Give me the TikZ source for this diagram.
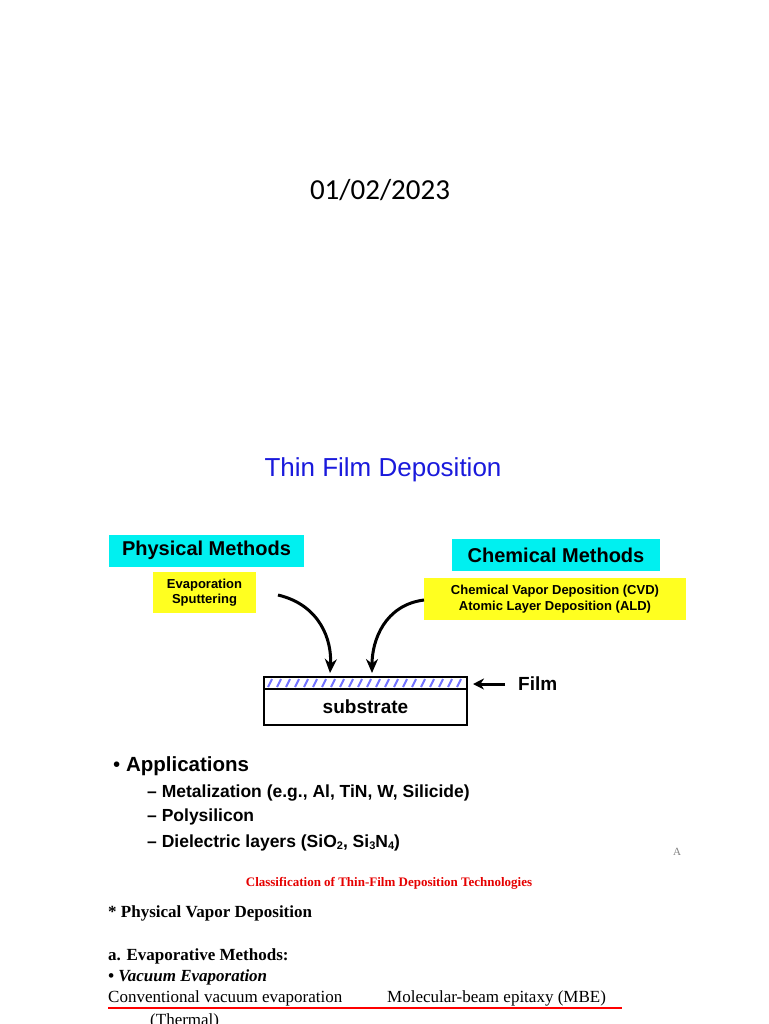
\documentclass[tikz,border=0pt]{standalone}
\usepackage{fontspec}
\setmainfont{Liberation Sans}
\newfontfamily\tms{Liberation Serif}
\newfontfamily\carl{Carlito}
\usetikzlibrary{arrows.meta}
\definecolor{cy}{HTML}{00F0F0}
\definecolor{ye}{HTML}{FFFF20}
\definecolor{tb}{HTML}{1A1ADC}
\newcommand{\sbs}[1]{\raisebox{-0.25ex}{\fontsize{11}{12}\selectfont #1}}
\tikzset{cybox/.style={fill=cy,inner sep=0pt,minimum height=32pt,font=\fontsize{20}{22}\selectfont\bfseries},
ybox/.style={fill=ye,inner sep=0pt,align=center,font=\fontsize{13}{15.5}\selectfont\bfseries},
arr/.style={line width=3pt,-{Stealth[length=14pt,width=12pt]}},
tm/.style={anchor=west,inner sep=0pt,font=\tms\fontsize{17}{19}\selectfont}}
\begin{document}
\begin{tikzpicture}[x=1pt,y=-1pt]
\useasboundingbox (0,0) rectangle (768,1024);
\node[font=\carl\fontsize{29}{30}\selectfont] (date) at (380,190) {01/02/2023};
\node[font=\fontsize{26}{28}\selectfont,text=tb] (title) at (383,470) {Thin Film Deposition};
\node[cybox,minimum width=195pt] (pm) at (206.5,550.5) {Physical Methods};
\node[cybox,minimum width=208pt] (cm) at (556,555) {Chemical Methods};
\node[ybox,minimum width=103pt,minimum height=41pt] (y1) at (204.5,592.5) {Evaporation\\Sputtering};
\node[ybox,minimum width=262pt,minimum height=42pt] (y2) at (555,599) {Chemical Vapor Deposition (CVD)\\Atomic Layer Deposition (ALD)};
\foreach \i in {268,277,...,460} \draw[blue!55,line width=2pt] (\i,687) -- (\i+4,679);
\draw[line width=1.5pt] (264,677) rectangle (467,689);
\node[draw,line width=1.5pt,minimum width=203pt,minimum height=36pt,inner sep=0pt,font=\fontsize{19}{21}\selectfont\bfseries] (sub) at (365.5,707) {substrate};
\coordinate (t1) at (330,673); \coordinate (t2) at (372,673);
\coordinate (s1) at (278,595); \coordinate (s2) at (424,600);
\draw[arr] (s1) .. controls (320,605) and (332,640) .. (t1);
\draw[arr] (s2) .. controls (385,605) and (372,640) .. (t2);
\node[anchor=west,inner sep=0pt,font=\fontsize{19}{21}\selectfont\bfseries] (film) at (518,684) {Film};
\coordinate (fe) at (473,684); \coordinate (fs) at (505,684);
\draw[line width=3pt,-{Stealth[length=11pt,width=11pt]}] (fs) -- (fe);
\node[anchor=west,inner sep=0pt,font=\fontsize{20.5}{22}\selectfont] (app) at (113,766) {\textbullet\ \textbf{Applications}};
\begin{scope}[every node/.style={anchor=west,inner sep=0pt,font=\fontsize{17.5}{19}\selectfont\bfseries}]
\node (i1) at (147,793) {– Metalization (e.g., Al, TiN, W, Silicide)};
\node (i2) at (147,817) {– Polysilicon};
\node (i3) at (147,843) {– Dielectric layers (SiO\sbs{2}, Si\sbs{3}N\sbs{4})};
\end{scope}
\node[font=\tms\fontsize{11}{12}\selectfont,text=gray] (a) at (677,852) {A};
\node[font=\tms\fontsize{13}{15}\selectfont\bfseries,text=red!90!black] (cls) at (389,883) {Classification of Thin-Film Deposition Technologies};
\node[tm,font=\tms\fontsize{17}{19}\selectfont\bfseries] (pvd) at (108,913) {* Physical Vapor Deposition};
\node[tm,font=\tms\fontsize{17}{19}\selectfont\bfseries] (ev) at (108,956) {a. Evaporative Methods:};
\node[tm,font=\tms\fontsize{17}{19}\selectfont\bfseries\itshape] (ve) at (108,977) {• Vacuum Evaporation};
\node[tm] (cv) at (108,998) {Conventional vacuum evaporation};
\node[tm] (mbe) at (387,998) {Molecular-beam epitaxy (MBE)};
\coordinate (u1) at (108,1008); \coordinate (u2) at (622,1008);
\draw[red,line width=1.2pt] (u1) -- (u2);
\node[tm] (th) at (150,1021) {(Thermal)};
\end{tikzpicture}
\end{document}
